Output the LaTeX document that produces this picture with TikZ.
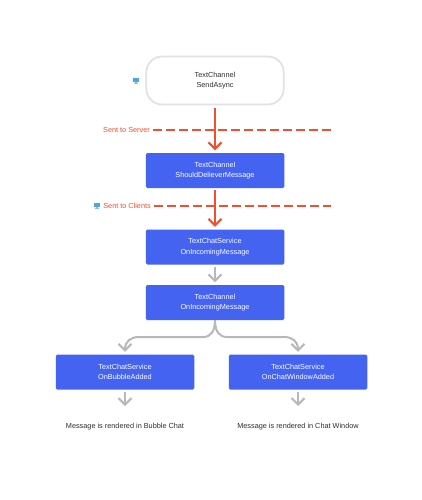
\documentclass[tikz,border=0pt]{standalone}
\usepackage{fontspec}
\setmainfont{Liberation Sans}
\usetikzlibrary{arrows.meta}
\definecolor{boxblue}{HTML}{4463F0}
\definecolor{redline}{HTML}{F2502A}
\definecolor{flowgray}{HTML}{B8B8B8}
\definecolor{startedge}{HTML}{E2E2E2}
\definecolor{labeltext}{HTML}{2E2E2E}
\definecolor{iconblue}{HTML}{4FA6DE}
\tikzset{
  every node/.style={font=\fontsize{7.3}{10.4}\selectfont},
  bluebox/.style={fill=boxblue,rounded corners=1.5pt,minimum width=138.5pt,minimum height=35pt,inner sep=0pt,align=center,text=white},
  startbox/.style={draw=startedge,line width=1.8pt,fill=white,rounded corners=16pt,minimum width=137.5pt,minimum height=48pt,inner sep=0pt,align=center,text=labeltext},
  redarrow/.style={draw=redline,line width=2pt,-{Straight Barb[length=6.5pt,width=13pt,line width=2pt]}},
  grayarrow/.style={draw=flowgray,line width=2pt,-{Straight Barb[length=6.5pt,width=13pt,line width=2pt]}},
  reddash/.style={draw=redline,line width=1.8pt,dash pattern=on 9pt off 4pt},
  redlabel/.style={text=redline,inner sep=0pt},
  msg/.style={text=labeltext,inner sep=0pt},
}
\newcommand{\monitoricon}[2]{%
  \fill[iconblue] (#1-3,#2-2.8) rectangle (#1+3,#2+1.2);
  \fill[iconblue!70] (#1-0.8,#2+1.2) rectangle (#1+0.8,#2+2.6);
  \fill[iconblue!70] (#1-2,#2+2.3) rectangle (#1+2,#2+3);
}
\begin{document}
\begin{tikzpicture}[x=1pt,y=-1pt]
\useasboundingbox (0,0) rectangle (422,500);
\fill[white] (0,0) rectangle (422,500);
\node[startbox] (send) at (215,80.5) {TextChannel\\SendAsync};
\node[bluebox] (should) at (215,170.5) {TextChannel\\ShouldDelieverMessage};
\node[bluebox] (tcs) at (215,247) {TextChatService\\OnIncomingMessage};
\node[bluebox] (tc) at (215,302.5) {TextChannel\\OnIncomingMessage};
\node[bluebox] (bubble) at (125,372) {TextChatService\\OnBubbleAdded};
\node[bluebox] (window) at (298,372) {TextChatService\\OnChatWindowAdded};
\node[msg] (bubblemsg) at (125,427) {Message is rendered in Bubble Chat};
\node[msg] (windowmsg) at (298,427) {Message is rendered in Chat Window};
\node[redlabel,anchor=east] (server) at (150,130) {Sent to Server};
\node[redlabel,anchor=east] (tocl) at (151,206) {Sent to Clients};
\coordinate (serverend) at (331,130);
\coordinate (toclend) at (331,206);
\draw[reddash] ([xshift=3pt]server.east) -- (serverend);
\draw[reddash] ([xshift=3pt]tocl.east) -- (toclend);
\monitoricon{135.7}{80.5}
\monitoricon{96.7}{205.5}
\draw[redarrow,shorten <=2.5pt,shorten >=2.5pt] (send.south) -- (should.north);
\draw[redarrow,shorten <=2pt,shorten >=2.5pt] (should.south) -- (tcs.north);
\draw[grayarrow,shorten <=2pt,shorten >=2.5pt] (tcs.south) -- (tc.north);
\draw[grayarrow,shorten >=2.5pt] (tc.south) .. controls (215,331) and (211,337) .. (203,337) -- (139,337) .. controls (131,337) and (125,341) .. (bubble.north);
\draw[grayarrow,shorten >=2.5pt] (tc.south) .. controls (215,331) and (219,337) .. (227,337) -- (284,337) .. controls (292,337) and (298,341) .. (window.north);
\draw[grayarrow,shorten <=2pt,shorten >=3pt] (bubble.south) -- (125,409);
\draw[grayarrow,shorten <=2pt,shorten >=3pt] (window.south) -- (298,409);
\end{tikzpicture}
\end{document}
